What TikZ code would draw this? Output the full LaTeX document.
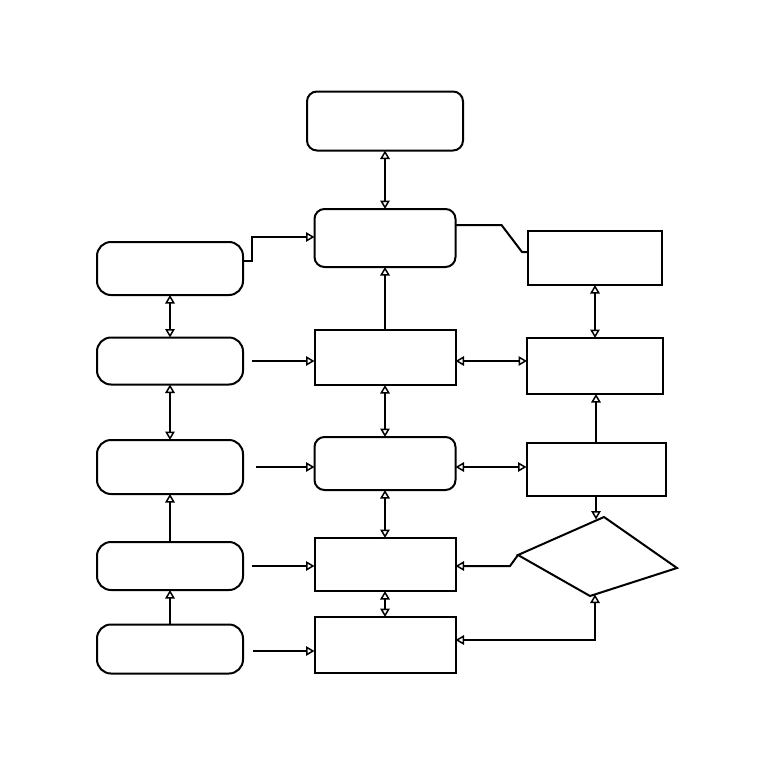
\documentclass[tikz,border=0pt]{standalone}
\usetikzlibrary{arrows.meta,calc}
\begin{document}
\begin{tikzpicture}[x=1pt,y=-1pt,
  line width=2pt, line join=miter,
  box/.style={draw=black, inner sep=0pt, outer sep=0pt, fill=white},
  rbox/.style={box, rounded corners=10pt},
  lbox/.style={box, rounded corners=14pt},
  tip/.tip={Triangle[open, length=8.5pt, width=9.5pt, line width=1.5pt]},
  onearrow/.style={-tip},
  biarrow/.style={tip-tip}]
\fill[white] (0,0) rectangle (768,768);
\useasboundingbox (0,0) rectangle (768,768);
% centre column
\node[rbox, minimum width=156, minimum height=59] (top) at (385,121) {};
\node[rbox, minimum width=141, minimum height=58] (a)  at (385,238) {};
\node[box,  minimum width=141, minimum height=55] (c2) at (385,357.5) {};
\node[rbox, minimum width=141, minimum height=53] (c3) at (385,463.5) {};
\node[box,  minimum width=141, minimum height=53] (c4) at (385,564.5) {};
\node[box,  minimum width=141, minimum height=56] (c5) at (385,645) {};
% left column
\node[lbox, minimum width=146, minimum height=53] (l1) at (170,268.5) {};
\node[lbox, minimum width=146, minimum height=47] (l2) at (170,361) {};
\node[lbox, minimum width=146, minimum height=54] (l3) at (170,467) {};
\node[lbox, minimum width=146, minimum height=48] (l4) at (170,566) {};
\node[lbox, minimum width=146, minimum height=49] (l5) at (170,649) {};
% right column
\node[box, minimum width=134, minimum height=54] (r1) at (595,258) {};
\node[box, minimum width=136, minimum height=56] (r2) at (595,366) {};
\node[box, minimum width=139, minimum height=53] (r3) at (596,469.5) {};
% decision
\coordinate (dt) at (604,517);
\coordinate (dl) at (518,555);
\coordinate (db) at (590,596);
\coordinate (dr) at (677,568);
\draw (dt) -- (dr) -- (db) -- (dl) -- cycle;
\coordinate (dtin) at (596,519.5);
\coordinate (dbin) at (595,594.5);
% helper levels
\coordinate (h1) at (0,361);
\coordinate (h2) at (0,467);
\coordinate (h3) at (0,640);
% connectors: centre column
\draw[biarrow] (top.south) -- (a.north);
\draw[onearrow] (c2.north) -- (a.south);
\draw[biarrow] (c2.south) -- (c3.north);
\draw[biarrow] (c3.south) -- (c4.north);
\draw[biarrow] (c4.south) -- (c5.north);
% left column
\draw[biarrow] (l1.south) -- (l2.north);
\draw[biarrow] (l2.south) -- (l3.north);
\draw[onearrow] (l4.north) -- (l3.south);
\draw[onearrow] (l5.north) -- (l4.south);
% left to centre
\draw[onearrow] ([yshift=7.5pt]l1.east) -- ++(9,0) |- ([yshift=1pt]a.west);
\draw[onearrow] ([xshift=9pt]l2.east) -- (l2.east -| c2.west);
\draw[onearrow] ([xshift=13pt]l3.east) -- (l3.east -| c3.west);
\draw[onearrow] ([xshift=9pt]l4.east) -- (l4.east -| c4.west);
\draw[onearrow] ([xshift=10pt,yshift=-2pt]l5.east) -- ([yshift=-2pt]l5.east -| c5.west);
% centre to right
\draw ([yshift=13pt]a.east) -- ++(46,0) -- ([xshift=-6pt,yshift=6pt]r1.west) -- ([yshift=6pt]r1.west);
\draw[biarrow] (c2.east |- h1) -- (r2.west |- h1);
\draw[biarrow] (c3.east |- h2) -- (r3.west |- h2);
% right column
\draw[biarrow] (r1.south) -- (r2.north);
\draw[onearrow] (r3.north) -- (r3.north |- r2.south);
\draw[onearrow] (r3.south) -- (dtin);
% decision connectors
\draw[onearrow] (dl) -- ++(-8,11) coordinate (k) -- (k -| c4.east);
\draw[biarrow] (c5.east |- h3) -| (dbin);
\end{tikzpicture}
\end{document}
